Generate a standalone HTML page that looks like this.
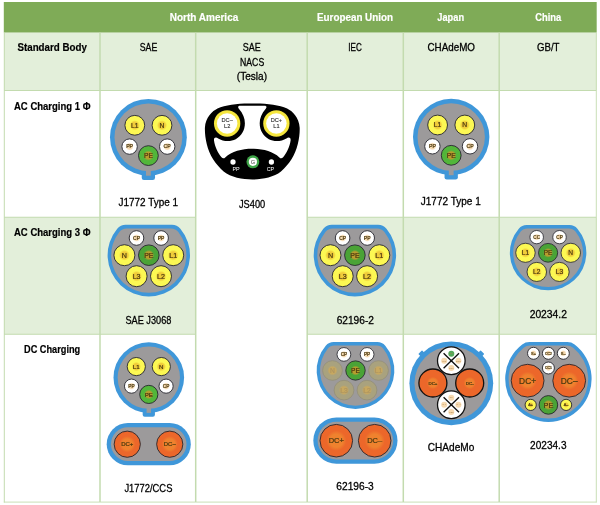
<!DOCTYPE html>
<html lang="en">
<head>
<meta charset="utf-8">
<title>EV charging connector standards</title>
<style>
html,body{margin:0;padding:0;background:#fff;}
body{width:600px;height:505px;overflow:hidden;}
svg{display:block;font-family:"Liberation Sans", sans-serif;}
</style>
</head>
<body>
<svg width="600" height="505" viewBox="0 0 600 505">
<defs>
<radialGradient id="g0" cx="0.5" cy="0.5" r="0.5"><stop offset="0.331" stop-color="#F0CC3A"/><stop offset="0.515" stop-color="#FCF853"/></radialGradient>
<radialGradient id="g1" cx="0.5" cy="0.5" r="0.5"><stop offset="0.331" stop-color="#F6D9B0"/><stop offset="0.515" stop-color="#FFFFFF"/></radialGradient>
<radialGradient id="g2" cx="0.5" cy="0.5" r="0.5"><stop offset="0.331" stop-color="#B89C2E"/><stop offset="0.515" stop-color="#52B63A"/></radialGradient>
<radialGradient id="g3" cx="0.5" cy="0.5" r="0.5"><stop offset="0.331" stop-color="#B89C2E"/><stop offset="0.515" stop-color="#4AA336"/></radialGradient>
<radialGradient id="g4" cx="0.5" cy="0.5" r="0.5"><stop offset="0.331" stop-color="#C7A860"/><stop offset="0.515" stop-color="#A9A27E"/></radialGradient>
<radialGradient id="g5" cx="0.5" cy="0.5" r="0.5"><stop offset="0.396" stop-color="#EF822E"/><stop offset="0.616" stop-color="#EC672A"/></radialGradient>
<radialGradient id="g6" cx="0.5" cy="0.5" r="0.5"><stop offset="0.353" stop-color="#EF822E"/><stop offset="0.549" stop-color="#EC672A"/></radialGradient>
<radialGradient id="g7" cx="0.5" cy="0.5" r="0.5"><stop offset="0.353" stop-color="#B89C2E"/><stop offset="0.549" stop-color="#4AA336"/></radialGradient>
<radialGradient id="g8" cx="0.5" cy="0.5" r="0.5"><stop offset="0.281" stop-color="#EF822E"/><stop offset="0.437" stop-color="#EC672A"/></radialGradient>
</defs>
<rect x="3.80" y="2.00" width="592.90" height="30.70" fill="#7FAB57"/>
<rect x="4.00" y="32.70" width="592.70" height="57.80" fill="#E3EFDA"/>
<rect x="4.00" y="217.20" width="191.70" height="117.10" fill="#E3EFDA"/>
<rect x="307.20" y="217.20" width="289.50" height="117.10" fill="#E3EFDA"/>
<line x1="4.00" y1="90.50" x2="596.20" y2="90.50" stroke="#C3DBAF" stroke-width="1.1"/>
<line x1="4.00" y1="217.20" x2="195.70" y2="217.20" stroke="#C3DBAF" stroke-width="1.1"/>
<line x1="307.20" y1="217.20" x2="596.20" y2="217.20" stroke="#C3DBAF" stroke-width="1.1"/>
<line x1="4.00" y1="334.30" x2="195.70" y2="334.30" stroke="#C3DBAF" stroke-width="1.1"/>
<line x1="307.20" y1="334.30" x2="596.20" y2="334.30" stroke="#C3DBAF" stroke-width="1.1"/>
<line x1="3.80" y1="502.10" x2="596.70" y2="502.10" stroke="#C3DBAF" stroke-width="0.9"/>
<line x1="4.30" y1="32.70" x2="4.30" y2="502.50" stroke="#C3DBAF" stroke-width="1.0"/>
<line x1="100.00" y1="32.70" x2="100.00" y2="502.00" stroke="#C3DBAF" stroke-width="1.5"/>
<line x1="195.70" y1="32.70" x2="195.70" y2="502.00" stroke="#C3DBAF" stroke-width="1.5"/>
<line x1="307.20" y1="32.70" x2="307.20" y2="502.00" stroke="#C3DBAF" stroke-width="1.5"/>
<line x1="403.30" y1="32.70" x2="403.30" y2="502.00" stroke="#C3DBAF" stroke-width="1.5"/>
<line x1="499.20" y1="32.70" x2="499.20" y2="502.00" stroke="#C3DBAF" stroke-width="1.5"/>
<line x1="596.30" y1="32.70" x2="596.30" y2="502.40" stroke="#C3DBAF" stroke-width="0.9"/>
<text x="204.00" y="21.05" text-anchor="middle" font-size="10.3" textLength="68.50" lengthAdjust="spacingAndGlyphs" font-weight="700" fill="#fff" stroke="#fff" stroke-width="0.18">North America</text>
<text x="355.00" y="21.05" text-anchor="middle" font-size="10.3" textLength="76.00" lengthAdjust="spacingAndGlyphs" font-weight="700" fill="#fff" stroke="#fff" stroke-width="0.18">European Union</text>
<text x="450.70" y="21.05" text-anchor="middle" font-size="10.3" textLength="26.70" lengthAdjust="spacingAndGlyphs" font-weight="700" fill="#fff" stroke="#fff" stroke-width="0.18">Japan</text>
<text x="548.30" y="21.05" text-anchor="middle" font-size="10.3" textLength="26.00" lengthAdjust="spacingAndGlyphs" font-weight="700" fill="#fff" stroke="#fff" stroke-width="0.18">China</text>
<text x="52.15" y="51.35" text-anchor="middle" font-size="10.3" textLength="69.30" lengthAdjust="spacingAndGlyphs" font-weight="700" fill="#000" stroke="#000" stroke-width="0.18">Standard Body</text>
<text x="148.50" y="51.40" text-anchor="middle" font-size="10.3" textLength="17.50" lengthAdjust="spacingAndGlyphs" fill="#000" stroke="#000" stroke-width="0.28">SAE</text>
<text x="251.85" y="51.40" text-anchor="middle" font-size="10.3" textLength="18.00" lengthAdjust="spacingAndGlyphs" fill="#000" stroke="#000" stroke-width="0.28">SAE</text>
<text x="252.10" y="65.75" text-anchor="middle" font-size="10.3" textLength="24.20" lengthAdjust="spacingAndGlyphs" fill="#000" stroke="#000" stroke-width="0.28">NACS</text>
<text x="251.90" y="80.15" text-anchor="middle" font-size="10.3" textLength="30.20" lengthAdjust="spacingAndGlyphs" fill="#000" stroke="#000" stroke-width="0.28">(Tesla)</text>
<text x="355.00" y="51.40" text-anchor="middle" font-size="10.3" textLength="13.50" lengthAdjust="spacingAndGlyphs" fill="#000" stroke="#000" stroke-width="0.28">IEC</text>
<text x="451.25" y="51.40" text-anchor="middle" font-size="10.3" textLength="47.50" lengthAdjust="spacingAndGlyphs" fill="#000" stroke="#000" stroke-width="0.28">CHAdeMO</text>
<text x="548.25" y="51.40" text-anchor="middle" font-size="10.3" textLength="22.50" lengthAdjust="spacingAndGlyphs" fill="#000" stroke="#000" stroke-width="0.28">GB/T</text>
<text x="52.25" y="109.85" text-anchor="middle" font-size="10.3" textLength="76.50" lengthAdjust="spacingAndGlyphs" font-weight="700" fill="#000" stroke="#000" stroke-width="0.18">AC Charging 1 &#934;</text>
<text x="52.25" y="235.95" text-anchor="middle" font-size="10.3" textLength="76.50" lengthAdjust="spacingAndGlyphs" font-weight="700" fill="#000" stroke="#000" stroke-width="0.18">AC Charging 3 &#934;</text>
<text x="52.10" y="352.55" text-anchor="middle" font-size="10.3" textLength="56.20" lengthAdjust="spacingAndGlyphs" font-weight="700" fill="#000" stroke="#000" stroke-width="0.18">DC Charging</text>
<text x="148.30" y="206.25" text-anchor="middle" font-size="10.3" textLength="59.60" lengthAdjust="spacingAndGlyphs" fill="#000" stroke="#000" stroke-width="0.28">J1772 Type 1</text>
<text x="252.10" y="207.55" text-anchor="middle" font-size="10.3" textLength="26.20" lengthAdjust="spacingAndGlyphs" fill="#000" stroke="#000" stroke-width="0.28">JS400</text>
<text x="450.75" y="204.75" text-anchor="middle" font-size="10.3" textLength="59.90" lengthAdjust="spacingAndGlyphs" fill="#000" stroke="#000" stroke-width="0.28">J1772 Type 1</text>
<text x="148.40" y="323.85" text-anchor="middle" font-size="10.3" textLength="45.90" lengthAdjust="spacingAndGlyphs" fill="#000" stroke="#000" stroke-width="0.28">SAE J3068</text>
<text x="355.30" y="323.55" text-anchor="middle" font-size="10.3" textLength="37.30" lengthAdjust="spacingAndGlyphs" fill="#000" stroke="#000" stroke-width="0.28">62196-2</text>
<text x="548.30" y="318.35" text-anchor="middle" font-size="10.3" textLength="37.30" lengthAdjust="spacingAndGlyphs" fill="#000" stroke="#000" stroke-width="0.28">20234.2</text>
<text x="148.40" y="491.85" text-anchor="middle" font-size="10.3" textLength="48.00" lengthAdjust="spacingAndGlyphs" fill="#000" stroke="#000" stroke-width="0.28">J1772/CCS</text>
<text x="355.00" y="490.05" text-anchor="middle" font-size="10.3" textLength="37.40" lengthAdjust="spacingAndGlyphs" fill="#000" stroke="#000" stroke-width="0.28">62196-3</text>
<text x="451.00" y="451.25" text-anchor="middle" font-size="10.3" textLength="46.50" lengthAdjust="spacingAndGlyphs" fill="#000" stroke="#000" stroke-width="0.28">CHAdeMo</text>
<text x="548.30" y="449.05" text-anchor="middle" font-size="10.3" textLength="36.40" lengthAdjust="spacingAndGlyphs" fill="#000" stroke="#000" stroke-width="0.28">20234.3</text>
<circle cx="148.40" cy="137.30" r="38.40" fill="#3F97D9"/>
<rect x="141.75" y="169.70" width="13.30" height="10.30" rx="2.20" fill="#3F97D9"/>
<circle cx="148.40" cy="137.30" r="33.90" fill="#9C9A9B"/>
<rect x="146.00" y="167.70" width="4.80" height="8.00" fill="#9C9A9B"/>
<circle cx="134.80" cy="125.30" r="9.90" fill="url(#g0)" stroke="#26262e" stroke-width="0.9"/>
<text x="134.80" y="127.72" text-anchor="middle" font-size="6.73" fill="#4a390f" stroke="#4a390f" stroke-width="0.22">L1</text>
<circle cx="162.00" cy="125.30" r="9.90" fill="url(#g0)" stroke="#26262e" stroke-width="0.9"/>
<text x="162.00" y="127.72" text-anchor="middle" font-size="6.73" fill="#4a390f" stroke="#4a390f" stroke-width="0.22">N</text>
<circle cx="129.60" cy="146.60" r="7.70" fill="url(#g1)" stroke="#26262e" stroke-width="0.9"/>
<text x="129.60" y="148.47" text-anchor="middle" font-size="5.20" fill="#4a390f" stroke="#4a390f" stroke-width="0.22">PP</text>
<circle cx="167.20" cy="146.60" r="7.70" fill="url(#g1)" stroke="#26262e" stroke-width="0.9"/>
<text x="167.20" y="148.47" text-anchor="middle" font-size="5.20" fill="#4a390f" stroke="#4a390f" stroke-width="0.22">CP</text>
<circle cx="148.40" cy="155.60" r="9.90" fill="url(#g2)" stroke="#26262e" stroke-width="0.9"/>
<text x="148.40" y="158.02" text-anchor="middle" font-size="6.73" fill="#4a390f" stroke="#4a390f" stroke-width="0.22">PE</text>
<circle cx="451.20" cy="137.00" r="38.20" fill="#3F97D9"/>
<rect x="444.55" y="169.20" width="13.30" height="10.30" rx="2.20" fill="#3F97D9"/>
<circle cx="451.20" cy="137.00" r="33.70" fill="#9C9A9B"/>
<rect x="448.80" y="167.20" width="4.80" height="8.00" fill="#9C9A9B"/>
<circle cx="437.60" cy="125.00" r="9.90" fill="url(#g0)" stroke="#26262e" stroke-width="0.9"/>
<text x="437.60" y="127.42" text-anchor="middle" font-size="6.73" fill="#4a390f" stroke="#4a390f" stroke-width="0.22">L1</text>
<circle cx="464.80" cy="125.00" r="9.90" fill="url(#g0)" stroke="#26262e" stroke-width="0.9"/>
<text x="464.80" y="127.42" text-anchor="middle" font-size="6.73" fill="#4a390f" stroke="#4a390f" stroke-width="0.22">N</text>
<circle cx="432.40" cy="146.30" r="7.70" fill="url(#g1)" stroke="#26262e" stroke-width="0.9"/>
<text x="432.40" y="148.17" text-anchor="middle" font-size="5.20" fill="#4a390f" stroke="#4a390f" stroke-width="0.22">PP</text>
<circle cx="470.00" cy="146.30" r="7.70" fill="url(#g1)" stroke="#26262e" stroke-width="0.9"/>
<text x="470.00" y="148.17" text-anchor="middle" font-size="5.20" fill="#4a390f" stroke="#4a390f" stroke-width="0.22">CP</text>
<circle cx="451.20" cy="155.30" r="9.90" fill="url(#g2)" stroke="#26262e" stroke-width="0.9"/>
<text x="451.20" y="157.72" text-anchor="middle" font-size="6.73" fill="#4a390f" stroke="#4a390f" stroke-width="0.22">PE</text>
<circle cx="148.80" cy="377.60" r="35.30" fill="#3F97D9"/>
<rect x="142.69" y="407.38" width="12.23" height="9.47" rx="2.02" fill="#3F97D9"/>
<circle cx="148.80" cy="377.60" r="31.16" fill="#9C9A9B"/>
<rect x="146.59" y="405.55" width="4.41" height="7.35" fill="#9C9A9B"/>
<circle cx="136.30" cy="366.57" r="9.10" fill="url(#g0)" stroke="#26262e" stroke-width="0.9"/>
<text x="136.30" y="368.80" text-anchor="middle" font-size="6.19" fill="#4a390f" stroke="#4a390f" stroke-width="0.22">L1</text>
<circle cx="161.30" cy="366.57" r="9.10" fill="url(#g0)" stroke="#26262e" stroke-width="0.9"/>
<text x="161.30" y="368.80" text-anchor="middle" font-size="6.19" fill="#4a390f" stroke="#4a390f" stroke-width="0.22">N</text>
<circle cx="131.52" cy="386.15" r="7.08" fill="url(#g1)" stroke="#26262e" stroke-width="0.9"/>
<text x="131.52" y="387.87" text-anchor="middle" font-size="4.78" fill="#4a390f" stroke="#4a390f" stroke-width="0.22">PP</text>
<circle cx="166.08" cy="386.15" r="7.08" fill="url(#g1)" stroke="#26262e" stroke-width="0.9"/>
<text x="166.08" y="387.87" text-anchor="middle" font-size="4.78" fill="#4a390f" stroke="#4a390f" stroke-width="0.22">CP</text>
<circle cx="148.80" cy="394.42" r="9.10" fill="url(#g2)" stroke="#26262e" stroke-width="0.9"/>
<text x="148.80" y="396.65" text-anchor="middle" font-size="6.19" fill="#4a390f" stroke="#4a390f" stroke-width="0.22">PE</text>
<g transform="translate(148.80,255.20) scale(1.0000,1.0000)">
<path d="M-23.14,-30.40 L23.14,-30.40 A11.00,11.00 0 0 1 31.57,-26.47 A41.20,41.20 0 1 1 -31.57,-26.47 A11.00,11.00 0 0 1 -23.14,-30.40 Z" fill="#3F97D9"/>
<path d="M-22.29,-26.80 L22.29,-26.80 A9.20,9.20 0 0 1 29.51,-23.30 A37.60,37.60 0 1 1 -29.51,-23.30 A9.20,9.20 0 0 1 -22.29,-26.80 Z" fill="#9C9A9B"/>
<circle cx="-12.30" cy="-17.20" r="7.30" fill="url(#g1)" stroke="#26262e" stroke-width="0.9"/>
<text x="-12.30" y="-15.40" text-anchor="middle" font-size="5.00" fill="#4a390f" stroke="#4a390f" stroke-width="0.22">CP</text>
<circle cx="12.30" cy="-17.20" r="7.30" fill="url(#g1)" stroke="#26262e" stroke-width="0.9"/>
<text x="12.30" y="-15.40" text-anchor="middle" font-size="5.00" fill="#4a390f" stroke="#4a390f" stroke-width="0.22">PP</text>
<circle cx="-24.40" cy="0.00" r="10.50" fill="url(#g0)" stroke="#26262e" stroke-width="0.9"/>
<text x="-24.40" y="2.57" text-anchor="middle" font-size="7.14" fill="#4a390f" stroke="#4a390f" stroke-width="0.22">N</text>
<circle cx="0.00" cy="0.00" r="10.30" fill="url(#g3)" stroke="#26262e" stroke-width="0.9"/>
<text x="0.00" y="2.52" text-anchor="middle" font-size="7.00" fill="#4a390f" stroke="#4a390f" stroke-width="0.22">PE</text>
<circle cx="24.40" cy="0.00" r="10.50" fill="url(#g0)" stroke="#26262e" stroke-width="0.9"/>
<text x="24.40" y="2.57" text-anchor="middle" font-size="7.14" fill="#4a390f" stroke="#4a390f" stroke-width="0.22">L1</text>
<circle cx="-12.20" cy="21.00" r="10.50" fill="url(#g0)" stroke="#26262e" stroke-width="0.9"/>
<text x="-12.20" y="23.57" text-anchor="middle" font-size="7.14" fill="#4a390f" stroke="#4a390f" stroke-width="0.22">L3</text>
<circle cx="12.20" cy="21.00" r="10.50" fill="url(#g0)" stroke="#26262e" stroke-width="0.9"/>
<text x="12.20" y="23.57" text-anchor="middle" font-size="7.14" fill="#4a390f" stroke="#4a390f" stroke-width="0.22">L2</text>
</g>
<g transform="translate(354.90,255.20) scale(1.0000,1.0000)">
<path d="M-23.14,-30.40 L23.14,-30.40 A11.00,11.00 0 0 1 31.57,-26.47 A41.20,41.20 0 1 1 -31.57,-26.47 A11.00,11.00 0 0 1 -23.14,-30.40 Z" fill="#3F97D9"/>
<path d="M-22.29,-26.80 L22.29,-26.80 A9.20,9.20 0 0 1 29.51,-23.30 A37.60,37.60 0 1 1 -29.51,-23.30 A9.20,9.20 0 0 1 -22.29,-26.80 Z" fill="#9C9A9B"/>
<circle cx="-12.30" cy="-17.20" r="7.30" fill="url(#g1)" stroke="#26262e" stroke-width="0.9"/>
<text x="-12.30" y="-15.40" text-anchor="middle" font-size="5.00" fill="#4a390f" stroke="#4a390f" stroke-width="0.22">CP</text>
<circle cx="12.30" cy="-17.20" r="7.30" fill="url(#g1)" stroke="#26262e" stroke-width="0.9"/>
<text x="12.30" y="-15.40" text-anchor="middle" font-size="5.00" fill="#4a390f" stroke="#4a390f" stroke-width="0.22">PP</text>
<circle cx="-24.40" cy="0.00" r="10.50" fill="url(#g0)" stroke="#26262e" stroke-width="0.9"/>
<text x="-24.40" y="2.57" text-anchor="middle" font-size="7.14" fill="#4a390f" stroke="#4a390f" stroke-width="0.22">N</text>
<circle cx="0.00" cy="0.00" r="10.30" fill="url(#g3)" stroke="#26262e" stroke-width="0.9"/>
<text x="0.00" y="2.52" text-anchor="middle" font-size="7.00" fill="#4a390f" stroke="#4a390f" stroke-width="0.22">PE</text>
<circle cx="24.40" cy="0.00" r="10.50" fill="url(#g0)" stroke="#26262e" stroke-width="0.9"/>
<text x="24.40" y="2.57" text-anchor="middle" font-size="7.14" fill="#4a390f" stroke="#4a390f" stroke-width="0.22">L1</text>
<circle cx="-12.20" cy="21.00" r="10.50" fill="url(#g0)" stroke="#26262e" stroke-width="0.9"/>
<text x="-12.20" y="23.57" text-anchor="middle" font-size="7.14" fill="#4a390f" stroke="#4a390f" stroke-width="0.22">L3</text>
<circle cx="12.20" cy="21.00" r="10.50" fill="url(#g0)" stroke="#26262e" stroke-width="0.9"/>
<text x="12.20" y="23.57" text-anchor="middle" font-size="7.14" fill="#4a390f" stroke="#4a390f" stroke-width="0.22">L2</text>
</g>
<g transform="translate(548.10,252.80) scale(0.9284,0.9106)">
<path d="M-23.14,-30.40 L23.14,-30.40 A11.00,11.00 0 0 1 31.57,-26.47 A41.20,41.20 0 1 1 -31.57,-26.47 A11.00,11.00 0 0 1 -23.14,-30.40 Z" fill="#3F97D9"/>
<path d="M-22.29,-26.80 L22.29,-26.80 A9.20,9.20 0 0 1 29.51,-23.30 A37.60,37.60 0 1 1 -29.51,-23.30 A9.20,9.20 0 0 1 -22.29,-26.80 Z" fill="#9C9A9B"/>
<circle cx="-12.30" cy="-17.20" r="7.30" fill="url(#g1)" stroke="#26262e" stroke-width="0.9"/>
<text x="-12.30" y="-15.40" text-anchor="middle" font-size="5.00" fill="#4a390f" stroke="#4a390f" stroke-width="0.22">CC</text>
<circle cx="12.30" cy="-17.20" r="7.30" fill="url(#g1)" stroke="#26262e" stroke-width="0.9"/>
<text x="12.30" y="-15.40" text-anchor="middle" font-size="5.00" fill="#4a390f" stroke="#4a390f" stroke-width="0.22">CP</text>
<circle cx="-24.40" cy="0.00" r="10.50" fill="url(#g0)" stroke="#26262e" stroke-width="0.9"/>
<text x="-24.40" y="2.57" text-anchor="middle" font-size="7.14" fill="#4a390f" stroke="#4a390f" stroke-width="0.22">L1</text>
<circle cx="0.00" cy="0.00" r="10.30" fill="url(#g3)" stroke="#26262e" stroke-width="0.9"/>
<text x="0.00" y="2.52" text-anchor="middle" font-size="7.00" fill="#4a390f" stroke="#4a390f" stroke-width="0.22">PE</text>
<circle cx="24.40" cy="0.00" r="10.50" fill="url(#g0)" stroke="#26262e" stroke-width="0.9"/>
<text x="24.40" y="2.57" text-anchor="middle" font-size="7.14" fill="#4a390f" stroke="#4a390f" stroke-width="0.22">N</text>
<circle cx="-12.20" cy="21.00" r="10.50" fill="url(#g0)" stroke="#26262e" stroke-width="0.9"/>
<text x="-12.20" y="23.57" text-anchor="middle" font-size="7.14" fill="#4a390f" stroke="#4a390f" stroke-width="0.22">L2</text>
<circle cx="12.20" cy="21.00" r="10.50" fill="url(#g0)" stroke="#26262e" stroke-width="0.9"/>
<text x="12.20" y="23.57" text-anchor="middle" font-size="7.14" fill="#4a390f" stroke="#4a390f" stroke-width="0.22">L3</text>
</g>
<g transform="translate(355.50,370.50) scale(0.9430,0.9358)">
<path d="M-23.14,-30.40 L23.14,-30.40 A11.00,11.00 0 0 1 31.57,-26.47 A41.20,41.20 0 1 1 -31.57,-26.47 A11.00,11.00 0 0 1 -23.14,-30.40 Z" fill="#3F97D9"/>
<path d="M-22.29,-26.80 L22.29,-26.80 A9.20,9.20 0 0 1 29.51,-23.30 A37.60,37.60 0 1 1 -29.51,-23.30 A9.20,9.20 0 0 1 -22.29,-26.80 Z" fill="#9C9A9B"/>
<circle cx="-12.30" cy="-17.20" r="7.30" fill="url(#g1)" stroke="#26262e" stroke-width="0.9"/>
<text x="-12.30" y="-15.40" text-anchor="middle" font-size="5.00" fill="#4a390f" stroke="#4a390f" stroke-width="0.22">CP</text>
<circle cx="12.30" cy="-17.20" r="7.30" fill="url(#g1)" stroke="#26262e" stroke-width="0.9"/>
<text x="12.30" y="-15.40" text-anchor="middle" font-size="5.00" fill="#4a390f" stroke="#4a390f" stroke-width="0.22">PP</text>
<circle cx="-24.40" cy="0.00" r="10.50" fill="url(#g4)" stroke="#948f79" stroke-width="0.9"/>
<text x="-24.40" y="2.57" text-anchor="middle" font-size="7.14" fill="#AE9560" stroke="#AE9560" stroke-width="0.22">N</text>
<circle cx="0.00" cy="0.00" r="10.30" fill="url(#g3)" stroke="#26262e" stroke-width="0.9"/>
<text x="0.00" y="2.52" text-anchor="middle" font-size="7.00" fill="#4a390f" stroke="#4a390f" stroke-width="0.22">PE</text>
<circle cx="24.40" cy="0.00" r="10.50" fill="url(#g4)" stroke="#948f79" stroke-width="0.9"/>
<text x="24.40" y="2.57" text-anchor="middle" font-size="7.14" fill="#AE9560" stroke="#AE9560" stroke-width="0.22">L1</text>
<circle cx="-12.20" cy="21.00" r="10.50" fill="url(#g4)" stroke="#948f79" stroke-width="0.9"/>
<text x="-12.20" y="23.57" text-anchor="middle" font-size="7.14" fill="#AE9560" stroke="#AE9560" stroke-width="0.22">L3</text>
<circle cx="12.20" cy="21.00" r="10.50" fill="url(#g4)" stroke="#948f79" stroke-width="0.9"/>
<text x="12.20" y="23.57" text-anchor="middle" font-size="7.14" fill="#AE9560" stroke="#AE9560" stroke-width="0.22">L2</text>
</g>
<rect x="106.70" y="423.00" width="84.10" height="42.30" rx="21.15" fill="#3F97D9"/>
<rect x="111.00" y="427.30" width="75.50" height="33.70" rx="16.85" fill="#9C9A9B"/>
<circle cx="127.25" cy="444.20" r="13.10" fill="url(#g5)" stroke="#26262e" stroke-width="0.9"/>
<text x="127.25" y="446.36" text-anchor="middle" font-size="6.00" fill="#4a390f" stroke="#4a390f" stroke-width="0.22">DC+</text>
<circle cx="169.75" cy="444.20" r="13.10" fill="url(#g5)" stroke="#26262e" stroke-width="0.9"/>
<text x="169.75" y="446.36" text-anchor="middle" font-size="6.00" fill="#4a390f" stroke="#4a390f" stroke-width="0.22">DC&#8211;</text>
<rect x="313.30" y="417.50" width="84.20" height="46.20" rx="23.10" fill="#3F97D9"/>
<rect x="317.60" y="421.80" width="75.60" height="37.60" rx="18.80" fill="#9C9A9B"/>
<circle cx="336.30" cy="440.70" r="16.30" fill="url(#g5)" stroke="#26262e" stroke-width="0.9"/>
<text x="336.30" y="443.40" text-anchor="middle" font-size="7.50" fill="#4a390f" stroke="#4a390f" stroke-width="0.22">DC+</text>
<circle cx="374.70" cy="440.70" r="16.30" fill="url(#g5)" stroke="#26262e" stroke-width="0.9"/>
<text x="374.70" y="443.40" text-anchor="middle" font-size="7.50" fill="#4a390f" stroke="#4a390f" stroke-width="0.22">DC&#8211;</text>
<g transform="translate(548.40,378.80)">
<path d="M-18.93,-36.80 L18.93,-36.80 A12.00,12.00 0 0 1 26.21,-34.34 A43.20,43.20 0 1 1 -26.21,-34.34 A12.00,12.00 0 0 1 -18.93,-36.80 Z" fill="#3F97D9"/>
<path d="M-18.35,-33.40 L18.35,-33.40 A10.30,10.30 0 0 1 24.75,-31.17 A39.80,39.80 0 1 1 -24.75,-31.17 A10.30,10.30 0 0 1 -18.35,-33.40 Z" fill="#9C9A9B"/>
<circle cx="-14.90" cy="-25.50" r="6.00" fill="url(#g1)" stroke="#26262e" stroke-width="0.9"/>
<text x="-14.90" y="-24.06" text-anchor="middle" font-size="4.00" fill="#4a390f" stroke="#4a390f" stroke-width="0.22">S+</text>
<circle cx="0.00" cy="-25.50" r="6.00" fill="url(#g1)" stroke="#26262e" stroke-width="0.9"/>
<text x="0.00" y="-24.24" text-anchor="middle" font-size="3.50" fill="#4a390f" stroke="#4a390f" stroke-width="0.22">CC2</text>
<circle cx="14.90" cy="-25.50" r="6.00" fill="url(#g1)" stroke="#26262e" stroke-width="0.9"/>
<text x="14.90" y="-24.06" text-anchor="middle" font-size="4.00" fill="#4a390f" stroke="#4a390f" stroke-width="0.22">S&#8211;</text>
<circle cx="0.00" cy="-10.80" r="6.00" fill="url(#g1)" stroke="#26262e" stroke-width="0.9"/>
<text x="0.00" y="-9.54" text-anchor="middle" font-size="3.50" fill="#4a390f" stroke="#4a390f" stroke-width="0.22">CC1</text>
<circle cx="-20.80" cy="1.90" r="16.40" fill="url(#g6)" stroke="#26262e" stroke-width="0.9"/>
<text x="-20.80" y="4.92" text-anchor="middle" font-size="8.40" fill="#4a390f" stroke="#4a390f" stroke-width="0.22">DC+</text>
<circle cx="20.80" cy="1.90" r="16.40" fill="url(#g6)" stroke="#26262e" stroke-width="0.9"/>
<text x="20.80" y="4.92" text-anchor="middle" font-size="8.40" fill="#4a390f" stroke="#4a390f" stroke-width="0.22">DC&#8211;</text>
<circle cx="0.00" cy="26.10" r="9.30" fill="url(#g7)" stroke="#26262e" stroke-width="0.9"/>
<text x="0.00" y="28.76" text-anchor="middle" font-size="7.40" fill="#4a390f" stroke="#4a390f" stroke-width="0.22">PE</text>
<circle cx="-17.70" cy="26.10" r="5.60" fill="url(#g0)" stroke="#26262e" stroke-width="0.9"/>
<text x="-17.70" y="27.47" text-anchor="middle" font-size="3.80" fill="#4a390f" stroke="#4a390f" stroke-width="0.22">A+</text>
<circle cx="17.70" cy="26.10" r="5.60" fill="url(#g0)" stroke="#26262e" stroke-width="0.9"/>
<text x="17.70" y="27.47" text-anchor="middle" font-size="3.80" fill="#4a390f" stroke="#4a390f" stroke-width="0.22">A&#8211;</text>
</g>
<g transform="translate(451.30,383.30)">
<circle cx="0" cy="0" r="41.9" fill="#3F97D9"/>
<rect x="-2.6" y="-44" width="5.2" height="6" rx="0.6" fill="#3F97D9" transform="rotate(-45)"/>
<rect x="-2.6" y="-44" width="5.2" height="6" rx="0.6" fill="#3F97D9" transform="rotate(45)"/>
<circle cx="0" cy="0" r="36.8" fill="#9C9A9B"/>
<circle cx="0" cy="-22.5" r="13.8" fill="#fff" stroke="#111" stroke-width="1.25"/>
<circle cx="0" cy="-29.60" r="3.0" fill="#55A85A"/>
<circle cx="-7.1" cy="-22.50" r="3.0" fill="#F6D9B0"/>
<circle cx="7.1" cy="-22.50" r="3.0" fill="#F6D9B0"/>
<circle cx="0" cy="-15.40" r="3.0" fill="#F6D9B0"/>
<path d="M-7.7,-30.00 L7.7,-15.00 M7.7,-30.00 L-7.7,-15.00" stroke="#111" stroke-width="1.35" fill="none"/><circle cx="0" cy="-22.5" r="1.0" fill="#111"/>
<circle cx="0" cy="21.5" r="13.8" fill="#fff" stroke="#111" stroke-width="1.25"/>
<circle cx="0" cy="14.40" r="3.0" fill="#F6D9B0"/>
<circle cx="-7.1" cy="21.50" r="3.0" fill="#F6D9B0"/>
<circle cx="7.1" cy="21.50" r="3.0" fill="#F6D9B0"/>
<circle cx="0" cy="28.60" r="3.0" fill="#F6D9B0"/>
<path d="M-7.7,14.00 L7.7,29.00 M7.7,14.00 L-7.7,29.00" stroke="#111" stroke-width="1.35" fill="none"/><circle cx="0" cy="21.5" r="1.0" fill="#111"/>
<text x="0" y="-28.90" text-anchor="middle" font-size="2.3" fill="#b08850">FG</text>
<text x="-7.1" y="-21.80" text-anchor="middle" font-size="2.3" fill="#b08850">N/C</text>
<text x="7.1" y="-21.80" text-anchor="middle" font-size="2.3" fill="#b08850">DCN</text>
<text x="0" y="-14.70" text-anchor="middle" font-size="2.3" fill="#b08850">DCP</text>
<text x="0" y="15.10" text-anchor="middle" font-size="2.3" fill="#b08850">PP</text>
<text x="-7.1" y="22.20" text-anchor="middle" font-size="2.3" fill="#b08850">C-L</text>
<text x="7.1" y="22.20" text-anchor="middle" font-size="2.3" fill="#b08850">C-H</text>
<text x="0" y="29.30" text-anchor="middle" font-size="2.3" fill="#b08850">CS2</text>
<circle cx="-18.40" cy="-0.30" r="14.00" fill="url(#g8)" stroke="#111" stroke-width="1.3"/>
<text x="-18.40" y="1.28" text-anchor="middle" font-size="4.40" fill="#4a390f" stroke="#4a390f" stroke-width="0.22">DC+</text>
<circle cx="18.40" cy="-0.30" r="14.00" fill="url(#g8)" stroke="#111" stroke-width="1.3"/>
<text x="18.40" y="1.28" text-anchor="middle" font-size="4.40" fill="#4a390f" stroke="#4a390f" stroke-width="0.22">DC-</text>
</g>
<g transform="translate(252.30,103.60) scale(0.975,0.983)">
<path d="M0,0 C14,-0.3 27,1.2 35.7,5 C41,7.6 48,14 48.6,24.6 C48.9,34 46.5,47 40.2,56.6 C37,61.5 33.5,65.5 29.4,69.1 C22,75 10,77.2 0,77.2 C-10,77.2 -22,75 -29.4,69.1 C-33.5,65.5 -37,61.5 -40.2,56.6 C-46.5,47 -48.9,34 -48.6,24.6 C-48,14 -41,7.6 -35.7,5 C-27,1.2 -14,-0.3 0,0 Z" fill="#000"/>
<path d="M-12.5,2.2 L12.5,2.2 C14.6,2.2 15.2,3.6 13.8,5.2 C9.5,10 7.6,15 7.6,20 C7.6,27 11,33 17,36.2 C22,38.8 30,38.6 35,35.4 C37.4,33.8 39.6,34.6 39.3,37.4 C38.6,43.5 35.5,50 31.6,54.6 C30.4,56 29,56 27.8,54.8 C21,48.6 11,46 0,46 C-11,46 -21,48.6 -27.8,54.8 C-29,56 -30.4,56 -31.6,54.6 C-35.5,50 -38.6,43.5 -39.3,37.4 C-39.6,34.6 -37.4,33.8 -35,35.4 C-30,38.6 -22,38.8 -17,36.2 C-11,33 -7.6,27 -7.6,20 C-7.6,15 -9.5,10 -13.8,5.2 C-15.2,3.6 -14.6,2.2 -12.5,2.2 Z" fill="#fff"/>
<circle cx="-25.8" cy="20.2" r="13.5" fill="#F5E63E"/>
<circle cx="-25.8" cy="20.2" r="10.5" fill="#fff"/>
<text x="-25.8" y="18.6" text-anchor="middle" font-size="5.8" fill="#2e2e2e" stroke="#2e2e2e" stroke-width="0.12">DC&#8211;</text>
<text x="-25.8" y="25.2" text-anchor="middle" font-size="5.8" fill="#2e2e2e" stroke="#2e2e2e" stroke-width="0.12">L2</text>
<circle cx="24.7" cy="20.2" r="13.5" fill="#F5E63E"/>
<circle cx="24.7" cy="20.2" r="10.5" fill="#fff"/>
<text x="24.7" y="18.6" text-anchor="middle" font-size="5.8" fill="#2e2e2e" stroke="#2e2e2e" stroke-width="0.12">DC+</text>
<text x="24.7" y="25.2" text-anchor="middle" font-size="5.8" fill="#2e2e2e" stroke="#2e2e2e" stroke-width="0.12">L1</text>
<circle cx="0.6" cy="59.2" r="6.6" fill="#3FA548"/>
<circle cx="0.6" cy="59.2" r="4.2" fill="#fff"/>
<text x="0.6" y="61.3" text-anchor="middle" font-size="5.8" fill="#3a3a3a">G</text>
<circle cx="-19.8" cy="59.4" r="2.7" fill="#fff"/>
<circle cx="19.6" cy="59.4" r="2.7" fill="#fff"/>
<text x="-16.6" y="68.9" text-anchor="middle" font-size="5.6" fill="#fff">PP</text>
<text x="18.6" y="68.9" text-anchor="middle" font-size="5.6" fill="#fff">CP</text>
</g>
</svg>
</body>
</html>
